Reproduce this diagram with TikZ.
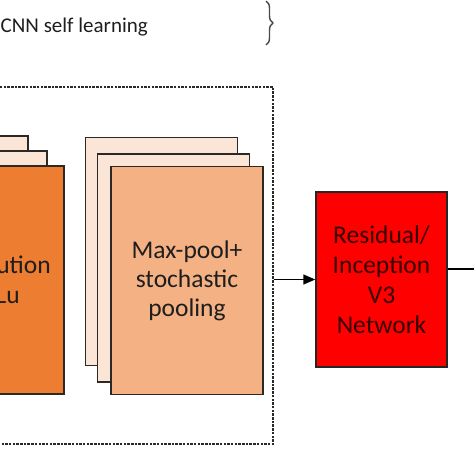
\documentclass[tikz,border=0pt]{standalone}
\usepackage{fontspec}
\setmainfont{Carlito}
\usetikzlibrary{arrows.meta,positioning,calc,decorations.pathreplacing}

\definecolor{pagelight}{RGB}{251,229,214}
\definecolor{convorange}{RGB}{237,125,49}
\definecolor{poolorange}{RGB}{244,177,131}
\definecolor{edgegray}{RGB}{45,40,35}
\definecolor{inkgray}{RGB}{30,30,30}
\definecolor{inkred}{RGB}{55,0,0}

\begin{document}
\begin{tikzpicture}[x=1pt,y=-1pt,
  page/.style={draw=edgegray,line width=1.5pt,minimum width=152pt,minimum height=228pt,
    inner sep=0pt,text=inkgray,align=center,font=\fontsize{25.5}{29}\selectfont},
  dashbox/.style={draw=edgegray,line width=1.3pt,dash pattern=on 2.5pt off 1.2pt,inner sep=0pt},
  resbox/.style={draw=black!85,fill=red,line width=1.5pt,minimum width=131pt,minimum height=175pt,
    inner sep=0pt,text=inkred,align=center,font=\fontsize{25.5}{30}\selectfont},
  label/.style={inner sep=0pt,text=inkgray},
  flow/.style={-{Triangle[length=12pt,width=10pt]},line width=1.5pt},
  wire/.style={line width=1.5pt}]
\clip (0,0) rectangle (474,474);

% Title and brace
\node[label,anchor=base west,font=\fontsize{21}{25}\selectfont] (title) at (0.5,32) {CNN self learning};
\draw[decorate,decoration={brace,amplitude=7pt},line width=1.4pt,edgegray!85] (266,1) -- (266,45);

% CNN block
\node[dashbox,minimum width=290pt,minimum height=357pt] (cnn) at (128,265.5) {};

% Convolution stack
\coordinate (convc) at (-12,280);
\node[page,fill=pagelight] (conv3) at ($(convc)+(-36,-30)$) {};
\node[page,fill=pagelight] (conv2) at ($(convc)+(-17,-15)$) {};
\node[page,fill=convorange] (conv1) at (convc) {};
\node[label,anchor=base east,font=\fontsize{25.5}{29}\selectfont] (convtop) at (51,273) {ution};
\node[label,anchor=base east,font=\fontsize{25.5}{29}\selectfont] (convbot) at (20,303) {Lu};

% Pooling stack
\coordinate (poolc) at (187,280.5);
\node[page,fill=pagelight] (pool3) at ($(poolc)+(-25.5,-29)$) {};
\node[page,fill=pagelight] (pool2) at ($(poolc)+(-13.5,-12.5)$) {};
\node[page,fill=poolorange] (pool1) at (poolc) {Max-pool+\\stochastic\\pooling};

% Network
\node[resbox] (res) at (381.5,279.5) {Residual/\\Inception\\V3\\Network};

% Connectors
\coordinate (out) at (480,269);
\draw[flow] (cnn.east |- res.west) -- (res.west);
\draw[wire] (res.east |- out) -- (out);
\end{tikzpicture}
\end{document}
